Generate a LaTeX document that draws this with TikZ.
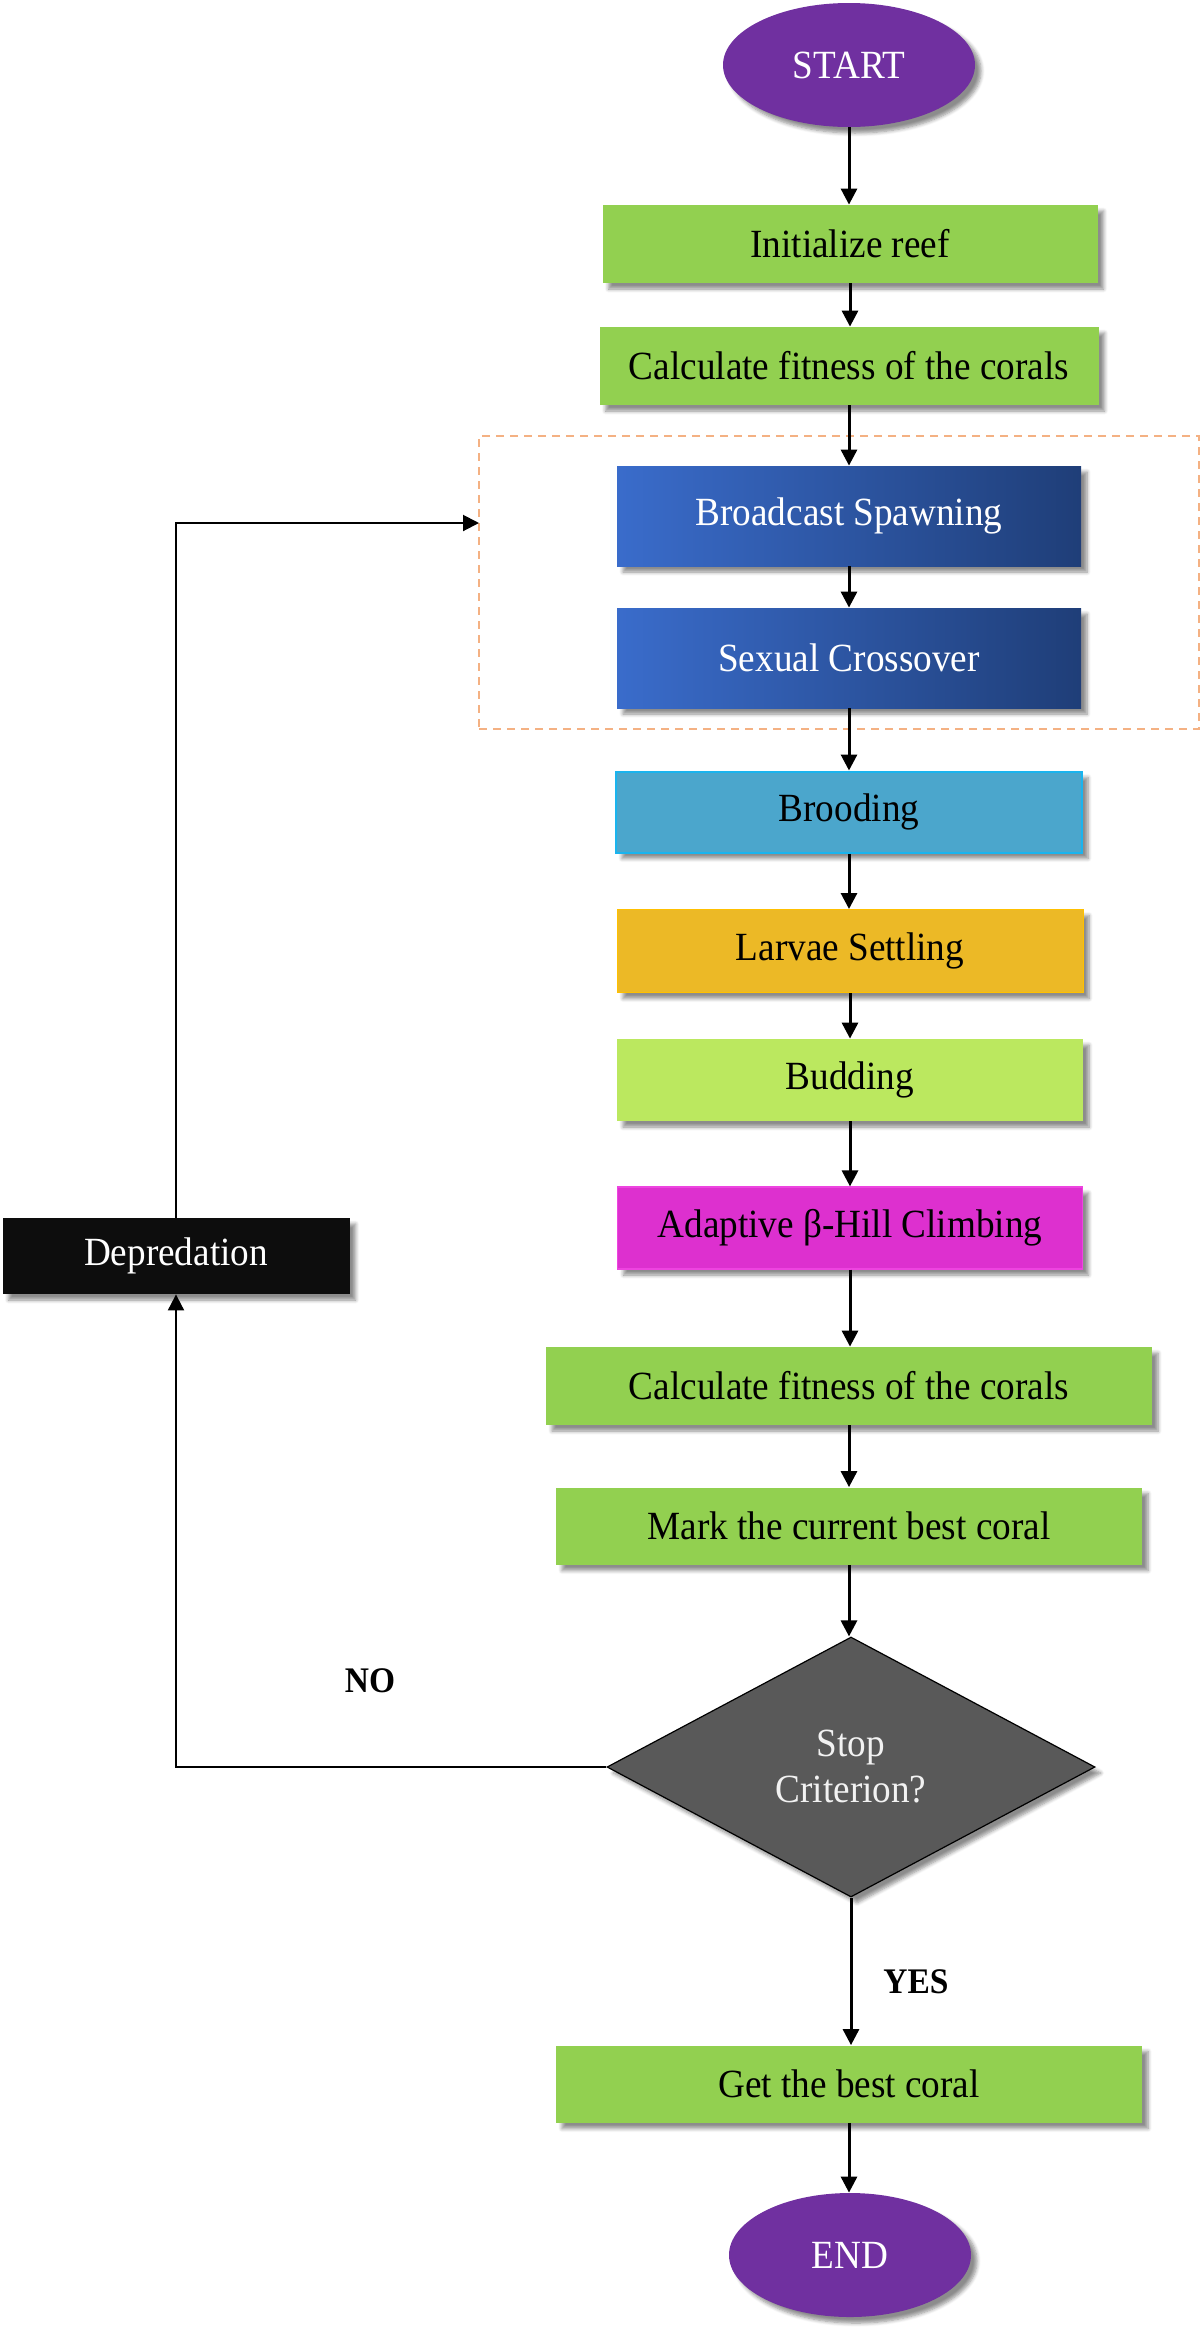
\documentclass[tikz,border=0pt]{standalone}
\usepackage{fontspec}
\setmainfont[FakeStretch=0.93]{Liberation Serif}
\usetikzlibrary{shapes.geometric,arrows.meta,shadows.blur}
\definecolor{cgreen}{HTML}{92D050}
\definecolor{cpurple}{HTML}{7030A0}
\definecolor{cblueL}{HTML}{3A6CCB}
\definecolor{cblueR}{HTML}{1F3E78}
\definecolor{cbrood}{HTML}{4BA6CC}
\definecolor{cbroodB}{HTML}{1AB4EE}
\definecolor{clarvae}{HTML}{ECB926}
\definecolor{clarvaeB}{HTML}{FFC000}
\definecolor{cbud}{HTML}{BBE85F}
\definecolor{cadapt}{HTML}{DD30CF}
\definecolor{cadaptB}{HTML}{EE44E0}
\definecolor{cdiam}{HTML}{595959}
\definecolor{cdash}{HTML}{F4B183}
\begin{document}
\begin{tikzpicture}[x=0.5pt,y=-0.5pt,
  font=\fontsize{20}{23}\selectfont,
  shad/.style={blur shadow={shadow xshift=3pt,shadow yshift=-3pt,shadow blur steps=6,shadow opacity=45}},
  box/.style={rectangle, inner sep=0pt, shad},
  greenbox/.style={box, fill=cgreen, text=black},
  oval/.style={ellipse, inner sep=0pt, fill=cpurple, text=white, shad},
  arr/.style={line width=1.5pt, -{Triangle[length=8pt,width=8pt]}},
  thinarr/.style={line width=1pt, -{Triangle[length=8pt,width=8pt]}},
  lbl/.style={font=\fontsize{18}{20}\selectfont\bfseries, inner sep=0pt}
]
\useasboundingbox (0,0) rectangle (1200,2335);

% group frame
\node[draw=cdash, dashed, dash pattern=on 4pt off 3pt, line width=1pt, rectangle, inner sep=0pt,
      minimum width=360pt, minimum height=146.5pt] (grp) at (839,582.5) {};

\node[oval, minimum width=126pt, minimum height=62pt] (start) at (849,65) {START};
\node[greenbox, minimum width=247.5pt, minimum height=39pt] (init) at (850,244) {Initialize reef};
\node[greenbox, minimum width=249.5pt, minimum height=39pt] (calc1) at (849,366) {Calculate fitness of the corals};
\node[box, left color=cblueL, right color=cblueR, text=white, minimum width=232pt, minimum height=50pt] (broad) at (849,516) {Broadcast Spawning};
\node[box, left color=cblueL, right color=cblueR, text=white, minimum width=232pt, minimum height=50pt] (sexual) at (849,658) {Sexual Crossover};
\node[box, fill=cbrood, draw=cbroodB, line width=1pt, text=black, minimum width=233pt, minimum height=40.5pt] (brood) at (849,812) {Brooding};
\node[box, fill=clarvae, draw=clarvaeB, line width=0.5pt, text=black, minimum width=233pt, minimum height=41.5pt] (larvae) at (850,951) {Larvae Settling};
\node[box, fill=cbud, text=black, minimum width=233pt, minimum height=41pt] (bud) at (850,1080) {Budding};
\node[box, fill=cadapt, draw=cadaptB, line width=0.6pt, text=black, minimum width=232.5pt, minimum height=41pt] (adapt) at (850,1228) {Adaptive β-Hill Climbing};
\node[greenbox, minimum width=303pt, minimum height=39pt] (calc2) at (849,1386) {Calculate fitness of the corals};
\node[greenbox, minimum width=293pt, minimum height=38.5pt] (mark) at (849,1526) {Mark the current best coral};
\node[diamond, draw=black, line width=0.6pt, fill=cdiam, text=black!5, inner sep=0pt, align=center,
      minimum width=244pt, minimum height=130pt, shad, font=\fontsize{20}{23}\selectfont] (diam) at (851,1767) {Stop\\Criterion?};
\node[greenbox, minimum width=293pt, minimum height=38.5pt] (best) at (849,2084) {Get the best coral};
\node[oval, minimum width=121pt, minimum height=62pt] (end) at (850,2255) {END};
\node[box, fill=black!95, text=white, minimum width=173.5pt, minimum height=38pt] (depr) at (176,1256) {Depredation};

\node[lbl] (no) at (370,1681) {NO};
\node[lbl] (yes) at (916,1982) {YES};

\coordinate (gin) at (479,523);

\draw[arr] (start.south) -- (start.south |- init.north);
\draw[arr] (init.south) -- (init.south |- calc1.north);
\draw[arr] (calc1.south) -- (calc1.south |- broad.north);
\draw[arr] (broad.south) -- (broad.south |- sexual.north);
\draw[arr] (sexual.south) -- (sexual.south |- brood.north);
\draw[arr] (brood.south) -- (brood.south |- larvae.north);
\draw[arr] (larvae.south) -- (larvae.south |- bud.north);
\draw[arr] (bud.south) -- (bud.south |- adapt.north);
\draw[arr] (adapt.south) -- (adapt.south |- calc2.north);
\draw[arr] (calc2.south) -- (calc2.south |- mark.north);
\draw[arr] (mark.south) -- (mark.south |- diam.north);
\draw[arr] (diam.south) -- (diam.south |- best.north);
\draw[arr] (best.south) -- (best.south |- end.north);

\draw[thinarr] (diam.west) -- (diam.west -| depr.south) -- (depr.south);
\draw[thinarr] (depr.north) -- (depr.north |- gin) -- (gin);
\end{tikzpicture}
\end{document}
